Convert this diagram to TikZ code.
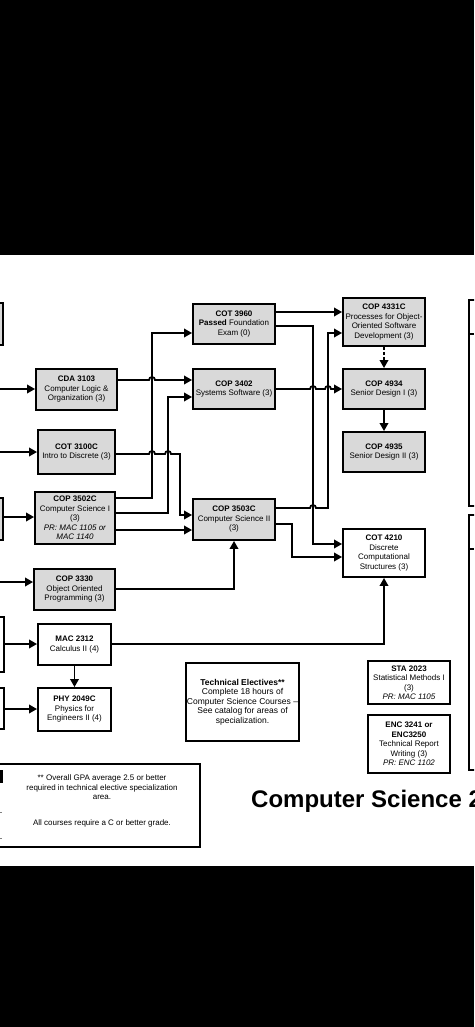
\documentclass[tikz,border=0pt]{standalone}
\usepackage{fontspec}
\setmainfont{Liberation Sans}
\usetikzlibrary{arrows.meta,positioning}

\tikzset{
  course/.style={draw, line width=1.9pt, fill=black!15, align=center, inner sep=1pt,
    font=\fontsize{8}{9.5}\selectfont},
  whitecourse/.style={course, fill=white},
  link/.style={line width=1.8pt, -{Triangle[length=8pt,width=8.5pt]}},
}

\begin{document}
\begin{tikzpicture}[x=1pt,y=-1pt]
  \useasboundingbox (0,0) rectangle (474,1027);
  \clip (0,0) rectangle (474,1027);
  \fill[white] (0,255) rectangle (474,866);
  \fill (0,0) rectangle (474,255);
  \fill (0,866) rectangle (474,1027);

  % boxes cut by the left and right edges
  \node[course, minimum width=60pt, minimum height=42pt] (prevA) at (-27,324) {};
  \node[course, minimum width=60pt, minimum height=42pt] (prevB) at (-27,519) {};
  \node[whitecourse, minimum width=60pt, minimum height=55pt] (prevC) at (-26,644.5) {};
  \node[whitecourse, minimum width=60pt, minimum height=41pt] (prevD) at (-26,708.5) {};
  \node[whitecourse, line width=1.5pt, minimum width=90pt, minimum height=206pt] (nextA) at (514,403) {};
  \node[whitecourse, line width=1.5pt, minimum width=90pt, minimum height=255pt] (nextB) at (514,642.5) {};
  \draw[line width=1.3pt] (nextA.west |- 0,334) -- (474,334);
  \draw[line width=1.3pt] (nextB.west |- 0,549) -- (474,549);
  \coordinate (inCDA) at (0,389);
  \coordinate (inDis) at (0,452);
  \coordinate (inOOP) at (0,582);

  % first column
  \node[course, minimum width=81pt, minimum height=41pt] (cda3103) at (76.5,389.5)
    {\textbf{CDA 3103}\\Computer Logic \&\\Organization (3)};
  \node[course, minimum width=77pt, minimum height=44pt] (cot3100c) at (76.5,452)
    {\textbf{COT 3100C}\\Intro to Discrete (3)};
  \node[course, minimum width=80pt, minimum height=52pt] (cop3502c) at (75,518)
    {\textbf{COP 3502C}\\Computer Science I\\(3)\\\textit{PR: MAC 1105 or}\\\textit{MAC 1140}};
  \node[course, minimum width=81pt, minimum height=41pt] (cop3330) at (74.5,589.5)
    {\textbf{COP 3330}\\Object Oriented\\Programming (3)};
  \node[whitecourse, minimum width=73pt, minimum height=41pt] (mac2312) at (74.5,644.5)
    {\textbf{MAC 2312}\\Calculus II (4)};
  \node[whitecourse, minimum width=73pt, minimum height=43pt] (phy2049c) at (74.5,709.5)
    {\textbf{PHY 2049C}\\Physics for\\Engineers II (4)};

  % second column
  \node[course, minimum width=82pt, minimum height=40pt] (cot3960) at (234,324)
    {\textbf{COT 3960}\\\textbf{Passed} Foundation\\Exam (0)};
  \node[course, minimum width=82pt, minimum height=40pt] (cop3402) at (234,389)
    {\textbf{COP 3402}\\Systems Software (3)};
  \node[course, minimum width=82pt, minimum height=41pt] (cop3503c) at (234,519.5)
    {\textbf{COP 3503C}\\Computer Science II\\(3)};
  \node[whitecourse, minimum width=113pt, minimum height=78pt,
    font=\fontsize{8.5}{9.6}\selectfont] (techel) at (242.5,702)
    {\textbf{Technical Electives**}\\Complete 18 hours of\\Computer Science Courses --\\See catalog for areas of\\specialization.};

  % third column
  \node[course, minimum width=82pt, minimum height=48pt] (cop4331c) at (384,322)
    {\textbf{COP 4331C}\\Processes for Object-\\Oriented Software\\Development (3)};
  \node[course, minimum width=82pt, minimum height=40pt] (cop4934) at (384,389)
    {\textbf{COP 4934}\\Senior Design I (3)};
  \node[course, minimum width=82pt, minimum height=40pt] (cop4935) at (384,452)
    {\textbf{COP 4935}\\Senior Design II (3)};
  \node[whitecourse, minimum width=82pt, minimum height=48pt] (cot4210) at (384,553)
    {\textbf{COT 4210}\\Discrete\\Computational\\Structures (3)};
  \node[whitecourse, minimum width=82pt, minimum height=43pt] (sta2023) at (409,682.5)
    {\textbf{STA 2023}\\Statistical Methods I\\(3)\\\textit{PR: MAC 1105}};
  \node[whitecourse, minimum width=82pt, minimum height=58pt] (enc3241) at (409,744)
    {\textbf{ENC 3241 or}\\\textbf{ENC3250}\\Technical Report\\Writing (3)\\\textit{PR: ENC 1102}};

  % notes and title
  \node[whitecourse, line width=1.4pt, minimum width=230pt, minimum height=83pt] (notes) at (85,805.5) {};
  \node[align=center, inner sep=0pt, font=\fontsize{8}{9.5}\selectfont] (gpa) at (102,787.5)
    {** Overall GPA average 2.5 or better\\required in technical elective specialization\\area.};
  \node[inner sep=0pt, font=\fontsize{8}{9.5}\selectfont] (grade) at (102,823)
    {All courses require a C or better grade.};
  \fill (0,770) rectangle (3,783);
  \draw[gray, thin] (0,812) -- (2,812);
  \draw[gray, thin] (0,838) -- (2,838);
  \node[anchor=base west, inner sep=0pt, font=\fontsize{24}{28}\bfseries\selectfont] (title) at (251,807)
    {Computer Science 2};

  % prerequisites
  \draw[link] (inCDA) -- (inCDA -| cda3103.west);
  \draw[link] (inDis) -- (inDis -| cot3100c.west);
  \draw[link] (prevB.east |- 0,517) -- (cop3502c.west |- 0,517);
  \draw[link] (inOOP) -- (inOOP -| cop3330.west);
  \draw[link] (prevC.east |- 0,644) -- (mac2312.west |- 0,644);
  \draw[link] (prevD.east |- 0,709) -- (phy2049c.west |- 0,709);
  \draw[link] (mac2312.south) -- (phy2049c.north);
  \draw[link] (cda3103.east |- 0,380) -- (149,380) arc[start angle=180,end angle=0,radius=3pt]
    -- (cop3402.west |- 0,380);
  \draw[link] (cop3502c.east |- 0,498) -- (152,498) -- (152,333) -- (cot3960.west |- 0,333);
  \draw[link] (cop3502c.east |- 0,513) -- (168,513) -- (168,397) -- (cop3402.west |- 0,397);
  \draw[link] (cot3100c.east |- 0,454) -- (149,454) arc[start angle=180,end angle=0,radius=3pt]
    -- (165,454) arc[start angle=180,end angle=0,radius=3pt] -- (180,454) -- (180,515)
    -- (cop3503c.west |- 0,515);
  \draw[link] (cop3502c.east |- 0,530) -- (cop3503c.west |- 0,530);
  \draw[link] (cop3330.east |- 0,589) -| (cop3503c.south);
  \draw[link] (mac2312.east |- 0,644) -| (cot4210.south);
  \draw[link] (cot3960.east |- 0,312) -- (cop4331c.west |- 0,312);
  \draw[link] (cot3960.east |- 0,326) -- (313,326) -- (313,544) -- (cot4210.west |- 0,544);
  \draw[link] (cop3503c.east |- 0,508) -- (310,508) arc[start angle=180,end angle=0,radius=3pt]
    -- (328,508) -- (328,333) -- (cop4331c.west |- 0,333);
  \draw[link] (cop3503c.east |- 0,524) -- (292,524) -- (292,557) -- (cot4210.west |- 0,557);
  \draw[link] (cop3402.east |- 0,389) -- (310,389) arc[start angle=180,end angle=0,radius=3pt]
    -- (325,389) arc[start angle=180,end angle=0,radius=3pt] -- (cop4934.west |- 0,389);
  \draw[link, dash pattern=on 3pt off 2pt] (cop4331c.south) -- (cop4934.north);
  \draw[link] (cop4934.south) -- (cop4935.north);
\end{tikzpicture}
\end{document}
